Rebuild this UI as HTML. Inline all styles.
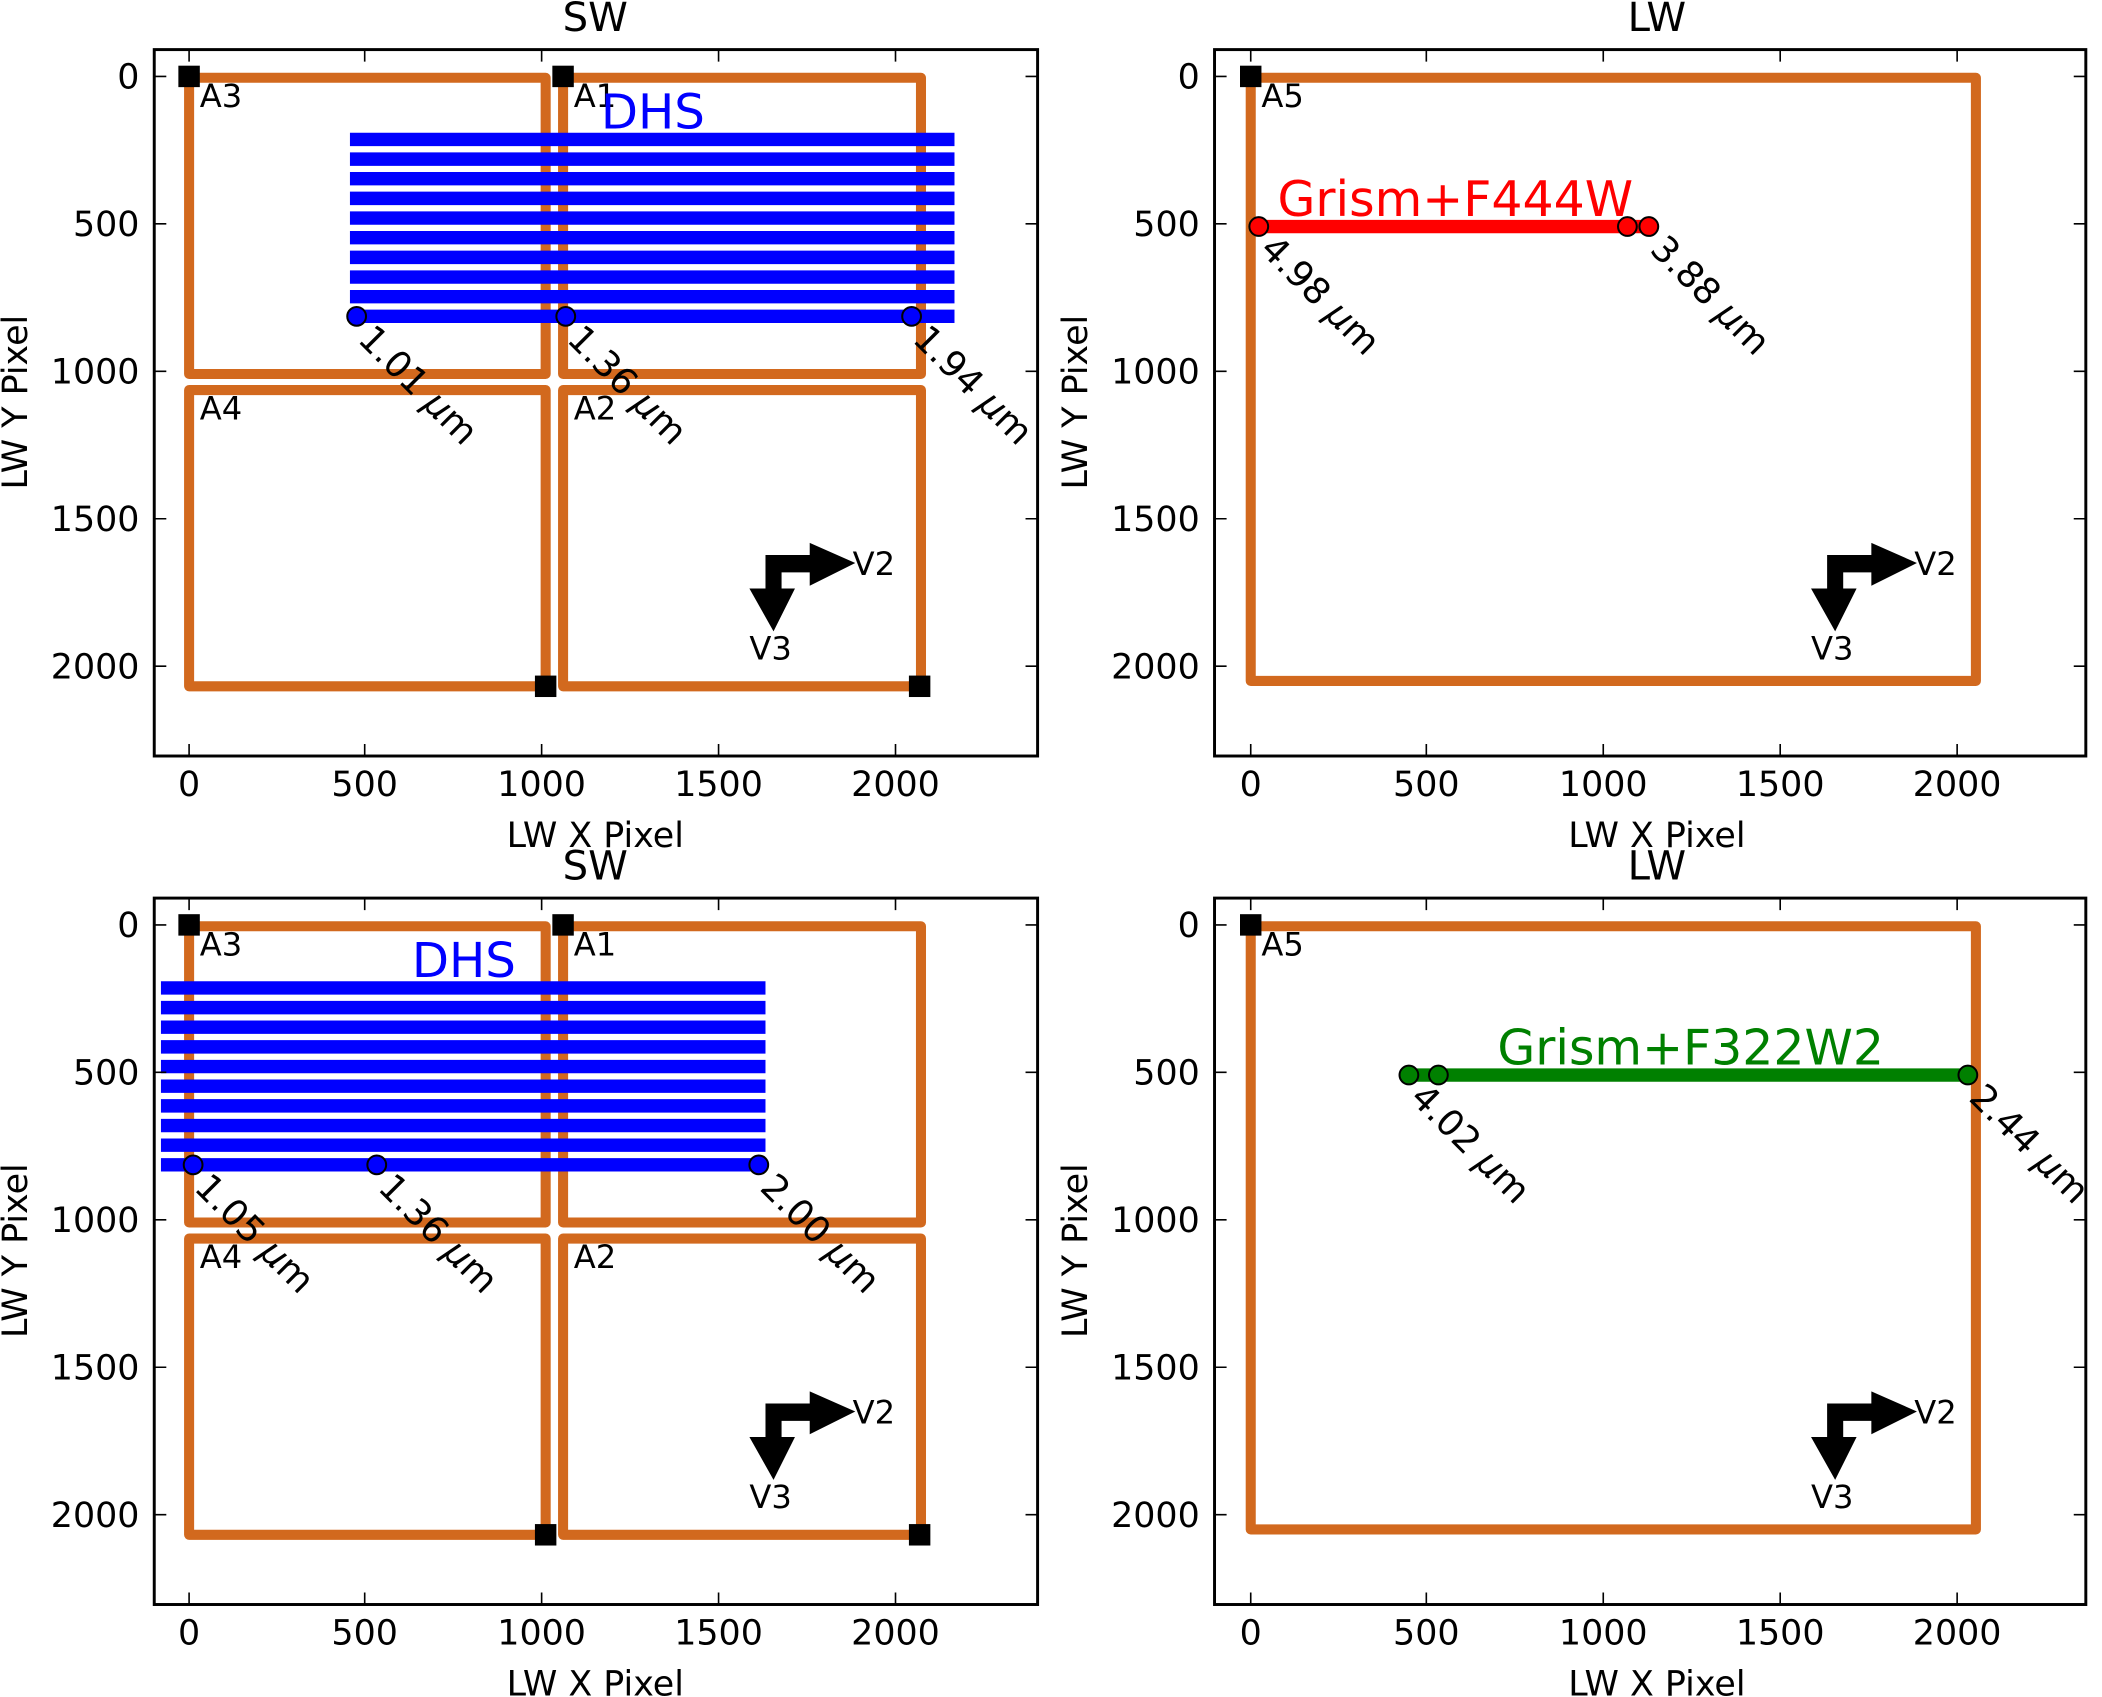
<!DOCTYPE html>
<html><head><meta charset="utf-8"><style>html,body{margin:0;padding:0;background:#fff}svg{display:block}.m{font-style:italic}</style></head>
<body>
<svg width="2102" height="1697" viewBox="0 0 1568 1266" xmlns="http://www.w3.org/2000/svg" font-family="'DejaVu Sans','Liberation Sans',sans-serif">
<defs>
<g id="ticksL">
<path d="M141,564v-9M272,564v-9M404,564v-9M536,564v-9M668,564v-9M141,37v9M272,37v9M404,37v9M536,37v9M668,37v9M115,57h9M115,167h9M115,277h9M115,387h9M115,497h9M774,57h-9M774,167h-9M774,277h-9M774,387h-9M774,497h-9" stroke="#000" stroke-width="1.2" fill="none"/>
<g font-size="26" fill="#000">
<text x="141" y="594" text-anchor="middle">0</text><text x="272" y="594" text-anchor="middle">500</text><text x="404" y="594" text-anchor="middle">1000</text><text x="536" y="594" text-anchor="middle">1500</text><text x="668" y="594" text-anchor="middle">2000</text>
<text x="104" y="66" text-anchor="end">0</text><text x="104" y="176" text-anchor="end">500</text><text x="104" y="286" text-anchor="end">1000</text><text x="104" y="396" text-anchor="end">1500</text><text x="104" y="506" text-anchor="end">2000</text>
<text x="444" y="632" text-anchor="middle">LW X Pixel</text>
<text transform="translate(20,300) rotate(-90)" text-anchor="middle">LW Y Pixel</text>
</g>
</g>
<g id="arrow">
<path d="M571,414H604V405L638,420L604,437V427H583V439H593L577,471L559,439H571Z" fill="#000"/>
<text x="636" y="429" font-size="24">V2</text>
<text x="559" y="492" font-size="24">V3</text>
</g>
<g id="swbg">
<g fill="none" stroke="#d2691e" stroke-width="7.5" stroke-linejoin="round">
<rect x="141" y="58" width="266" height="221"/><rect x="420" y="58" width="267" height="221"/>
<rect x="141" y="291" width="266" height="221"/><rect x="420" y="291" width="267" height="221"/>
</g>
<g fill="#000"><rect x="133" y="49" width="16" height="16"/><rect x="412" y="49" width="16" height="16"/><rect x="399" y="504" width="16" height="16"/><rect x="678" y="504" width="16" height="16"/></g>
<g font-size="24"><text x="149" y="80">A3</text><text x="428" y="80">A1</text><text x="149" y="313">A4</text><text x="428" y="313">A2</text></g>
</g>
<g id="lwbg">
<rect x="933" y="58" width="541" height="450" fill="none" stroke="#d2691e" stroke-width="7.5" stroke-linejoin="round"/>
<rect x="925" y="49" width="16" height="16"/>
<text x="941" y="80" font-size="24">A5</text>
</g>
</defs>

<!-- Top left -->
<use href="#swbg"/>
<path d="M261,104H712M261,118.7H712M261,133.3H712M261,148H712M261,162.7H712M261,177.3H712M261,192H712M261,206.7H712M261,221.3H712M261,236H712" stroke="#0000ff" stroke-width="10"/>
<text x="487" y="96" font-size="36" fill="#0000ff" text-anchor="middle">DHS</text>
<g fill="#0000ff" stroke="#000" stroke-width="1.5"><circle cx="266" cy="236" r="7"/><circle cx="422" cy="236" r="7"/><circle cx="680" cy="236" r="7"/></g>
<g font-size="27">
<text transform="translate(280,240) rotate(45)" y="20">1.01 <tspan class="m">μ</tspan>m</text>
<text transform="translate(436,240) rotate(45)" y="20">1.36 <tspan class="m">μ</tspan>m</text>
<text transform="translate(694,240) rotate(45)" y="20">1.94 <tspan class="m">μ</tspan>m</text>
</g>
<use href="#arrow"/>
<rect x="115" y="37" width="659" height="527" fill="none" stroke="#000" stroke-width="2.2"/>
<use href="#ticksL"/>
<text x="444" y="23" font-size="30" text-anchor="middle">SW</text>

<!-- Top right -->
<use href="#lwbg"/>
<path d="M939,169H1230" stroke="#ff0000" stroke-width="10"/>
<g fill="#ff0000" stroke="#000" stroke-width="1.5"><circle cx="939" cy="169" r="7"/><circle cx="1214" cy="169" r="7"/><circle cx="1230" cy="169" r="7"/></g>
<text x="953" y="161" font-size="36.5" fill="#ff0000">Grism+F444W</text>
<g font-size="27">
<text transform="translate(953,173) rotate(45)" y="20">4.98 <tspan class="m">μ</tspan>m</text>
<text transform="translate(1244,173) rotate(45)" y="20">3.88 <tspan class="m">μ</tspan>m</text>
</g>
<use href="#arrow" x="792"/>
<rect x="906" y="37" width="650" height="527" fill="none" stroke="#000" stroke-width="2.2"/>
<g transform="translate(792,0)">
<path d="M141,564v-9M272,564v-9M404,564v-9M536,564v-9M668,564v-9M141,37v9M272,37v9M404,37v9M536,37v9M668,37v9M114,57h9M114,167h9M114,277h9M114,387h9M114,497h9M764,57h-9M764,167h-9M764,277h-9M764,387h-9M764,497h-9" stroke="#000" stroke-width="1.2" fill="none"/>
<g font-size="26">
<text x="141" y="594" text-anchor="middle">0</text><text x="272" y="594" text-anchor="middle">500</text><text x="404" y="594" text-anchor="middle">1000</text><text x="536" y="594" text-anchor="middle">1500</text><text x="668" y="594" text-anchor="middle">2000</text>
<text x="103" y="66" text-anchor="end">0</text><text x="103" y="176" text-anchor="end">500</text><text x="103" y="286" text-anchor="end">1000</text><text x="103" y="396" text-anchor="end">1500</text><text x="103" y="506" text-anchor="end">2000</text>
<text x="444" y="632" text-anchor="middle">LW X Pixel</text>
<text transform="translate(19,300) rotate(-90)" text-anchor="middle">LW Y Pixel</text>
</g>
<text x="444" y="23" font-size="30" text-anchor="middle">LW</text>
</g>

<!-- Bottom left -->
<g transform="translate(0,633)">
<use href="#swbg"/>
<path d="M120,104H571M120,118.7H571M120,133.3H571M120,148H571M120,162.7H571M120,177.3H571M120,192H571M120,206.7H571M120,221.3H571M120,236H571" stroke="#0000ff" stroke-width="10"/>
<text x="346" y="96" font-size="36" fill="#0000ff" text-anchor="middle">DHS</text>
<g fill="#0000ff" stroke="#000" stroke-width="1.5"><circle cx="144" cy="236" r="7"/><circle cx="281" cy="236" r="7"/><circle cx="566" cy="236" r="7"/></g>
<g font-size="27">
<text transform="translate(158,240) rotate(45)" y="20">1.05 <tspan class="m">μ</tspan>m</text>
<text transform="translate(295,240) rotate(45)" y="20">1.36 <tspan class="m">μ</tspan>m</text>
<text transform="translate(580,240) rotate(45)" y="20">2.00 <tspan class="m">μ</tspan>m</text>
</g>
<use href="#arrow"/>
<rect x="115" y="37" width="659" height="527" fill="none" stroke="#000" stroke-width="2.2"/>
<use href="#ticksL"/>
<text x="444" y="23" font-size="30" text-anchor="middle">SW</text>
</g>

<!-- Bottom right -->
<g transform="translate(0,633)">
<use href="#lwbg"/>
<path d="M1051,169H1468" stroke="#008000" stroke-width="10"/>
<g fill="#008000" stroke="#000" stroke-width="1.5"><circle cx="1051" cy="169" r="7"/><circle cx="1073" cy="169" r="7"/><circle cx="1468" cy="169" r="7"/></g>
<text x="1117" y="161" font-size="36.5" fill="#008000">Grism+F322W2</text>
<g font-size="27">
<text transform="translate(1065,173) rotate(45)" y="20">4.02 <tspan class="m">μ</tspan>m</text>
<text transform="translate(1482,173) rotate(45)" y="20">2.44 <tspan class="m">μ</tspan>m</text>
</g>
<use href="#arrow" x="792"/>
<rect x="906" y="37" width="650" height="527" fill="none" stroke="#000" stroke-width="2.2"/>
<g transform="translate(792,0)">
<path d="M141,564v-9M272,564v-9M404,564v-9M536,564v-9M668,564v-9M141,37v9M272,37v9M404,37v9M536,37v9M668,37v9M114,57h9M114,167h9M114,277h9M114,387h9M114,497h9M764,57h-9M764,167h-9M764,277h-9M764,387h-9M764,497h-9" stroke="#000" stroke-width="1.2" fill="none"/>
<g font-size="26">
<text x="141" y="594" text-anchor="middle">0</text><text x="272" y="594" text-anchor="middle">500</text><text x="404" y="594" text-anchor="middle">1000</text><text x="536" y="594" text-anchor="middle">1500</text><text x="668" y="594" text-anchor="middle">2000</text>
<text x="103" y="66" text-anchor="end">0</text><text x="103" y="176" text-anchor="end">500</text><text x="103" y="286" text-anchor="end">1000</text><text x="103" y="396" text-anchor="end">1500</text><text x="103" y="506" text-anchor="end">2000</text>
<text x="444" y="632" text-anchor="middle">LW X Pixel</text>
<text transform="translate(19,300) rotate(-90)" text-anchor="middle">LW Y Pixel</text>
</g>
<text x="444" y="23" font-size="30" text-anchor="middle">LW</text>
</g>
</g>
</svg>
</body></html>
